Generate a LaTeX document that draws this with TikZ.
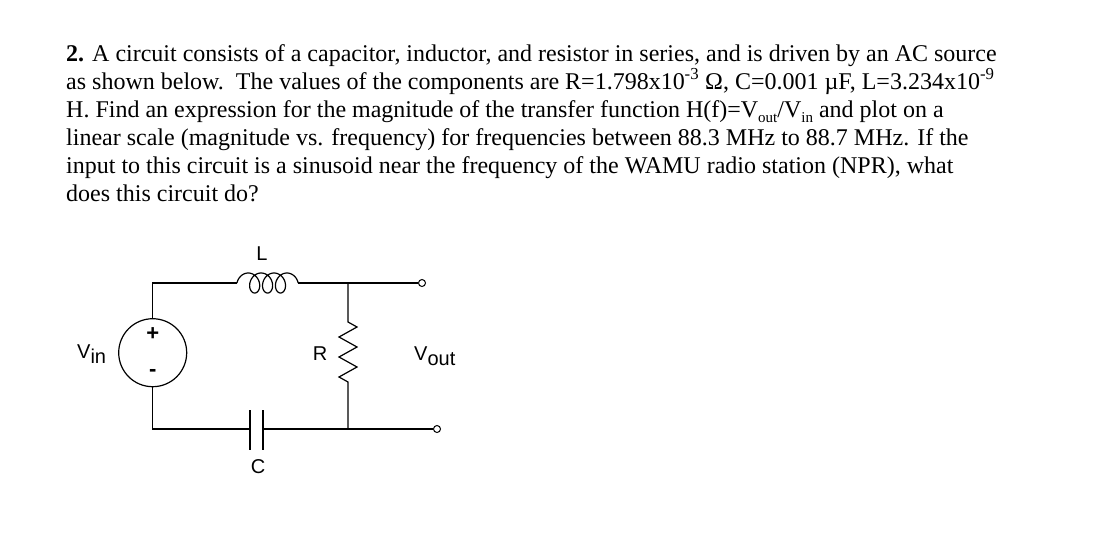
\documentclass[tikz,border=0pt]{standalone}
\usepackage{fontspec}
\setmainfont{Liberation Serif}
\newfontfamily\cf{Liberation Sans}
\begin{document}
\begin{tikzpicture}[x=1pt,y=-1pt,
  txt/.style={anchor=base west,inner sep=0pt,font=\fontsize{24}{28}\selectfont},
  lab/.style={inner sep=0pt,font=\cf\fontsize{20}{22}\selectfont},
  wire/.style={line width=1.2pt},
  term/.style={circle,draw,line width=1pt,minimum size=7pt,inner sep=0pt,fill=white}]
\useasboundingbox (0,0) rectangle (1100,550);
\node[txt] (t1) at (66,61) {\textbf{2.} A circuit consists of a capacitor, inductor, and resistor in series, and is driven by an AC source};
\node[txt] (t2) at (66,89) {as shown below.\ \ The values of the components are R=1.798x10\textsuperscript{-3} Ω, C=0.001 µF, L=3.234x10\textsuperscript{-9}};
\node[txt] (t3) at (66,117) {H. Find an expression for the magnitude of the transfer function H(f)=V\raisebox{-5pt}{\fontsize{15}{16}\selectfont out}/V\raisebox{-5pt}{\fontsize{15}{16}\selectfont in} and plot on a};
\node[txt] (t4) at (66,145) {linear scale (magnitude vs. frequency) for frequencies between 88.3 MHz to 88.7 MHz. If the};
\node[txt] (t5) at (66,173) {input to this circuit is a sinusoid near the frequency of the WAMU radio station (NPR), what};
\node[txt] (t6) at (66,201) {does this circuit do?};
% circuit
\node[circle,draw,line width=1.2pt,minimum size=68pt,inner sep=0pt] (src) at (152.7,352.7) {};
\node[lab,font=\cf\bfseries\fontsize{22}{22}\selectfont] at (152.7,334) {+};
\node[lab,font=\cf\bfseries\fontsize{22}{22}\selectfont] at (152.7,373) {-};
\coordinate (tl) at (152.7,283);
\coordinate (bl) at (152.7,429);
\coordinate (l1) at (237,283);
\coordinate (l2) at (298,283);
\coordinate (j1) at (348,283);
\coordinate (j2) at (348,429);
\coordinate (c1) at (250,429);
\coordinate (c2) at (263,429);
\node[term] (o1) at (422,283) {};
\node[term] (o2) at (437,429) {};
\draw[wire] (src.north) -- (tl) -- (l1);
\draw[wire] plot[domain=0:7*pi,samples=240,variable=\s] ({237+8-8*cos(\s r)+12.9*\s/(2*pi)},{283-10*sin(\s r)});
\draw[wire] (l2) -- (j1) -- (o1);
\draw[wire] (src.south) -- (bl) -- (c1);
\draw[wire] (250,410) -- (250,450);
\draw[wire] (263,410) -- (263,450);
\draw[wire] (c2) -- (j2) -- (o2);
\draw[wire] (j1) -- (348,322) -- (357,327) -- (339,337) -- (357,347) -- (339,357) -- (357,367) -- (339,377) -- (348,382) -- (j2);
\node[lab] (Ll) at (262,254) {L};
\node[lab] (Cl) at (258,467) {C};
\node[lab] (Rl) at (320,354) {R};
\node[lab,anchor=base west] (vin) at (77,358) {V\raisebox{-5pt}{in}};
\node[lab,anchor=base west] (vout) at (414,360) {V\raisebox{-5pt}{out}};
\end{tikzpicture}
\end{document}
